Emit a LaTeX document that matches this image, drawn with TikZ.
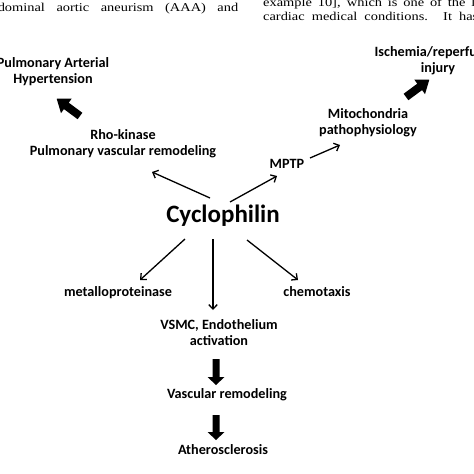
\documentclass[tikz,border=0pt]{standalone}
\usepackage{graphicx}
\usepackage{fontspec}
\setmainfont{Carlito}
\newfontfamily\serifpaper{Liberation Serif}
\usetikzlibrary{arrows.meta}
\begin{document}
\begin{tikzpicture}[x=1pt,y=-1pt,
  lbl/.style={font=\bfseries\fontsize{14.2}{16}\selectfont, inner sep=0pt, align=center},
  big/.style={font=\bfseries\fontsize{25}{30}\selectfont, inner sep=0pt},
  paper/.style={font=\serifpaper\fontsize{12}{14}\selectfont, inner sep=0pt, anchor=base west},
  thinarr/.style={line width=1.3pt, -{Straight Barb[length=4.5pt,width=8.5pt,line width=1.3pt]}},
  block/.style={fill=black}]
\useasboundingbox (0,0) rectangle (474,474);
\fill[white] (0,0) rectangle (474,474);
\begin{scope}
\clip (0,0) rectangle (474,474);
% page text
\node[paper] (p1) at (-16,11) {\scalebox{1.2}[1]{\makebox[211.7pt][s]{abdominal aortic aneurism (AAA) and}}};
\node[paper] (p2) at (263,6) {\scalebox{1.2}[1]{\makebox[176.7pt][s]{example 10], which is one of the l}}};
\node[paper] (p3) at (263,20) {\scalebox{1.2}[1]{\makebox[179.2pt][s]{cardiac medical conditions. It has}}};
% labels
\node[lbl] (pah) at (53,72) {Pulmonary Arterial\\Hypertension};
\node[lbl] (rho) at (123,144) {Rho-kinase\\Pulmonary vascular remodeling};
\node[lbl, anchor=base] (mptp) at (287,168) {MPTP};
\node[lbl] (mito) at (368,122.5) {Mitochondria\\pathophysiology};
\node[lbl] (isch) at (438,61) {Ischemia/reperfusion\\injury};
\node[big, anchor=base] (cyc) at (223,222) {Cyclophilin};
\node[lbl, anchor=base] (mmp) at (118,296) {metalloproteinase};
\node[lbl, anchor=base] (chemo) at (317,296) {chemotaxis};
\node[lbl] (vsmc) at (219,333) {VSMC, Endothelium\\activation};
\node[lbl, anchor=base] (vrem) at (227,398) {Vascular remodeling};
\node[lbl, anchor=base] (ath) at (223,454) {Atherosclerosis};
% connector ends
\coordinate (c1s) at (210,198); \coordinate (c1e) at (152,172);
\coordinate (c2s) at (230,202); \coordinate (c2e) at (277,176);
\coordinate (c3s) at (310,158); \coordinate (c3e) at (340,145);
\coordinate (c4s) at (185,239); \coordinate (c4e) at (140,280);
\coordinate (c5s) at (213,239); \coordinate (c5e) at (213,310);
\coordinate (c6s) at (247,240); \coordinate (c6e) at (298,280);
\draw[thinarr] (c1s) -- (c1e);
\draw[thinarr] (c2s) -- (c2e);
\draw[thinarr] (c3s) -- (c3e);
\draw[thinarr] (c4s) -- (c4e);
\draw[thinarr] (c5s) -- (c5e);
\draw[thinarr] (c6s) -- (c6e);
% block arrows
\fill[block, shift={(80,116)}, rotate=143.5] (0,-4) -- (17,-4) -- (17,-9) -- (29,0) -- (17,9) -- (17,4) -- (0,4) -- cycle;
\fill[block, shift={(406,97)}, rotate=36.5] (0,-4) -- (17,-4) -- (17,-9) -- (29,0) -- (17,9) -- (17,4) -- (0,4) -- cycle;
\fill[block, shift={(216,359)}, rotate=-90] (0,-3.5) -- (18,-3.5) -- (18,-8.5) -- (26,0) -- (18,8.5) -- (18,3.5) -- (0,3.5) -- cycle;
\fill[block, shift={(216,415)}, rotate=-90] (0,-3.5) -- (17,-3.5) -- (17,-8.5) -- (25,0) -- (17,8.5) -- (17,3.5) -- (0,3.5) -- cycle;
\end{scope}
\end{tikzpicture}
\end{document}
